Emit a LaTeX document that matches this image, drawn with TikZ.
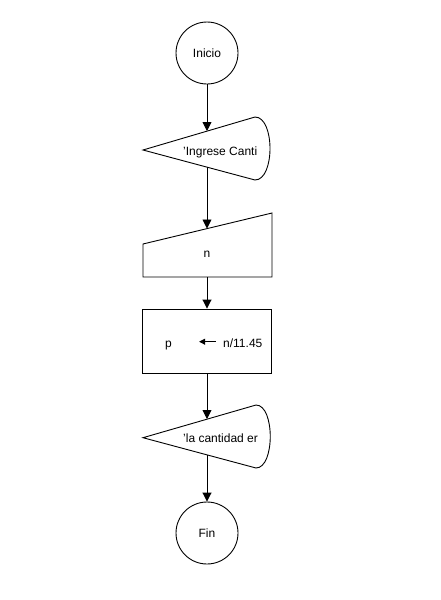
\documentclass[tikz,border=0pt]{standalone}
\usepackage{fontspec}
\setmainfont{Liberation Sans}
\usetikzlibrary{arrows.meta}
\begin{document}
\begin{tikzpicture}[x=1pt,y=-1pt,
 shapeline/.style={draw=black, line width=0.9pt, line join=miter},
 term/.style={circle, draw=black, line width=0.9pt, minimum size=62pt, inner sep=0pt, font=\fontsize{12}{14}\selectfont},
 txt/.style={inner sep=0pt, font=\fontsize{12}{14}\selectfont, anchor=base west},
 procbox/.style={rectangle, draw=black, line width=0.9pt, minimum width=129pt, minimum height=64pt, inner sep=0pt},
 flow/.style={line width=0.9pt, -{Triangle[width=9pt,length=9pt]}},
 assign/.style={line width=0.9pt, -{Triangle[width=6pt,length=6pt]}},
]
\useasboundingbox[fill=white] (0,0) rectangle (440,600);
% start
\node[term] (inicio) at (207,53) {Inicio};
% display 1
\draw[shapeline] (143,150) -- (255,117) .. controls (275,117) and (275,180) .. (255,180) -- cycle;
\node[txt] (d1) at (183,155) {'Ingrese Canti};
\coordinate (d1in) at (207,131);
\coordinate (d1out) at (207,167);
% manual input
\draw[shapeline] (143,244) -- (272,213) -- (272,277) -- (143,277) -- cycle;
\node[txt, anchor=base] (m1) at (207,257.5) {n};
\coordinate (m1in) at (207,228.5);
\coordinate (m1out) at (207,277);
% process
\node[procbox] (proc) at (207,341) {};
\node[txt] (pvar) at (165,347) {p};
\node[inner sep=0pt, minimum width=16pt, minimum height=1pt] (parrow) at (207.3,341.7) {};
\draw[assign] (parrow.east) -- (parrow.west);
\node[txt] (pexpr) at (223,347) {n/11.45};
% display 2
\draw[shapeline] (143,437.7) -- (256,405) .. controls (275,405) and (275,468) .. (256,468) -- cycle;
\node[txt] (d2) at (183,442) {'la cantidad er};
\coordinate (d2in) at (207,419);
\coordinate (d2out) at (207,455);
% end
\node[term] (fin) at (207,533) {Fin};
% connectors
\draw[flow] (inicio) -- (d1in);
\draw[flow] (d1out) -- (m1in);
\draw[flow] (m1out) -- (proc);
\draw[flow] (proc) -- (d2in);
\draw[flow] (d2out) -- (fin);
\end{tikzpicture}
\end{document}
